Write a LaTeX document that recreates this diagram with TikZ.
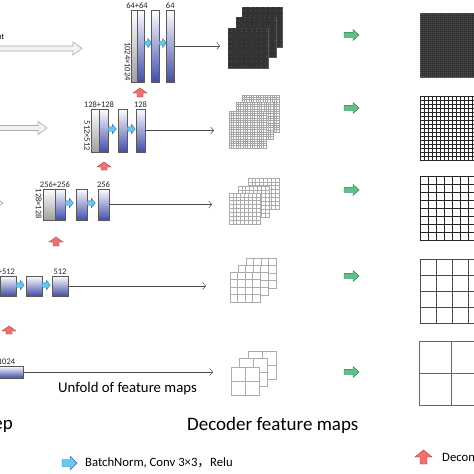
\documentclass[tikz,border=0pt]{standalone}
\usepackage{fontspec}
\setmainfont{Carlito}
\newfontfamily\cjkfont{Noto Sans CJK SC}
\usetikzlibrary{arrows.meta}

\definecolor{barblue}{RGB}{66,78,168}
\definecolor{convcyan}{RGB}{105,200,235}
\definecolor{convedge}{RGB}{45,105,175}
\definecolor{deconvred}{RGB}{238,112,112}
\definecolor{deconvedge}{RGB}{170,60,60}
\definecolor{mapgreen}{RGB}{95,192,142}
\definecolor{mapedge}{RGB}{45,120,80}

\tikzset{
  bar/.style={draw=gray!70!black, line width=0.4pt, inner sep=0pt, outer sep=0pt, top color=white},
  graybar/.style={bar, bottom color=gray!75},
  bluebar/.style={bar, bottom color=barblue},
  dimlabel/.style={font=\fontsize{8.5}{9}\selectfont, inner sep=1pt, text=black!85},
  link/.style={draw=gray!60!black, line width=0.5pt, -{Straight Barb[length=3pt,width=7pt]}},
  convarrow/.style={fill=convcyan, draw=convedge, line width=0.4pt},
  deconvarrow/.style={fill=deconvred, draw=deconvedge, line width=0.4pt},
  maparrow/.style={fill=mapgreen, draw=mapedge, line width=0.4pt},
  passarrow/.style={fill=gray!10, draw=gray!65, line width=0.6pt},
  darkframe/.style={fill=black!70, draw=black!65, line width=0.4pt},
  darklines/.style={draw=gray!40!black, line width=0.3pt},
  midframe/.style={fill=white, draw=gray!70, line width=0.5pt},
  midlines/.style={draw=gray!70, line width=0.4pt},
  lightframe/.style={fill=white, draw=gray!65, line width=0.6pt},
  lightlines/.style={draw=gray!65, line width=0.6pt},
  pics/blockarrow/.style args={#1/#2/#3/#4}{code={
    \path[pic actions] (0,-#2) -- ({#1-#4},-#2) -- ({#1-#4},-#3) -- (#1,0)
      -- ({#1-#4},#3) -- ({#1-#4},#2) -- (0,#2) -- cycle;}}
}

% x, y (top left), size, cells, frame style, line style
\newcommand{\fmap}[6]{%
  \path[#5] (#1,#2) rectangle ++(#3,#3);
  \pgfmathsetmacro\cellsz{#3/#4}
  \pgfmathtruncatemacro\lastk{#4-1}
  \foreach \k in {1,...,\lastk} {
    \draw[#6] ({#1+\k*\cellsz},#2) -- ++(0,#3);
    \draw[#6] (#1,{#2+\k*\cellsz}) -- ++(#3,0);
  }
}

\begin{document}
\begin{tikzpicture}[x=1pt,y=-1pt]
\path[fill=white, use as bounding box] (0,0) rectangle (474,474);

% inputs from the encoder
\node[anchor=east, font=\fontsize{8.5}{9}\selectfont, inner sep=0pt] (inlabel) at (4.5,37) {Input};
\pic[passarrow] at (-5,48.5) {blockarrow=87/2.5/6.5/9};
\pic[passarrow] at (-5,128) {blockarrow=52/2.5/6.5/9};
\pic[passarrow] at (-20,203) {blockarrow=23/2.5/6.5/9};

% row 1
\node[graybar, minimum width=5.5, minimum height=72] (skip1) at (134.25,46) {};
\node[bluebar, minimum width=7, minimum height=72] (up1) at (140.5,46) {};
\node[bluebar, minimum width=7.3, minimum height=72] (conv1) at (155.3,46) {};
\node[bluebar, minimum width=7.3, minimum height=72] (out1) at (170.3,46) {};
\node[dimlabel, anchor=south] (lab1a) at (skip1.north east) {64+64};
\node[dimlabel, anchor=south] (lab1b) at (out1.north) {64};
\node[dimlabel, rotate=-90, anchor=north east] (size1) at (skip1.south west) {1024×1024};
\pic[convarrow] at (144.4,43) {blockarrow=7/2/4.5/3.5};
\pic[convarrow] at (159.2,43) {blockarrow=7/2/4.5/3.5};

% row 2
\node[graybar, minimum width=8, minimum height=43] (skip2) at (95,130.5) {};
\node[bluebar, minimum width=9, minimum height=43] (up2) at (103.5,130.5) {};
\node[bluebar, minimum width=9, minimum height=43] (conv2) at (122.5,130.5) {};
\node[bluebar, minimum width=9, minimum height=43] (out2) at (140.5,130.5) {};
\node[dimlabel, anchor=south] (lab2a) at (skip2.north east) {128+128};
\node[dimlabel, anchor=south] (lab2b) at (out2.north) {128};
\node[dimlabel, rotate=-90, anchor=north east] (size2) at (skip2.south west) {512×512};
\pic[convarrow] at (108.2,129) {blockarrow=8/2.2/4.8/4};
\pic[convarrow] at (127.2,129) {blockarrow=8/2.2/4.8/4};

% row 3
\node[graybar, minimum width=12, minimum height=31] (skip3) at (49,204.5) {};
\node[bluebar, minimum width=10, minimum height=31] (up3) at (60,204.5) {};
\node[bluebar, minimum width=11, minimum height=31] (conv3) at (81.5,204.5) {};
\node[bluebar, minimum width=11, minimum height=31] (out3) at (103.5,204.5) {};
\node[dimlabel, anchor=south] (lab3a) at (skip3.north east) {256+256};
\node[dimlabel, anchor=south] (lab3b) at (out3.north) {256};
\node[dimlabel, rotate=-90, anchor=north east] (size3) at (skip3.south west) {128×128};
\pic[convarrow] at (65.2,203) {blockarrow=8/2.2/4.8/4};
\pic[convarrow] at (87.2,203) {blockarrow=8/2.2/4.8/4};

% row 4
\node[graybar, minimum width=16, minimum height=20] (skip4) at (-8,286) {};
\node[bluebar, minimum width=16, minimum height=20] (up4) at (8,286) {};
\node[bluebar, minimum width=16, minimum height=20] (conv4) at (34,286) {};
\node[bluebar, minimum width=16, minimum height=20] (out4) at (60,286) {};
\node[dimlabel, anchor=south] (lab4a) at (skip4.north east) {512+512};
\node[dimlabel, anchor=south] (lab4b) at (out4.north) {512};
\pic[convarrow] at (16.2,285) {blockarrow=8/2.2/4.8/4};
\pic[convarrow] at (42.2,285) {blockarrow=8/2.2/4.8/4};

% row 5
\node[bluebar, minimum width=33, minimum height=12] (out5) at (6.5,372) {};
\node[dimlabel, anchor=south] (lab5) at (out5.north) {1024};

% deconvolution between rows
\pic[deconvarrow, rotate=90] at (140,97) {blockarrow=9/3/7/5};
\pic[deconvarrow, rotate=90] at (104,170) {blockarrow=8/3/7/5};
\pic[deconvarrow, rotate=90] at (56,246) {blockarrow=9/3/7/5};
\pic[deconvarrow, rotate=90] at (9,334) {blockarrow=8/3/7/5};

% unfold links
\coordinate (m1) at (220,46);
\coordinate (m2) at (214,130.5);
\coordinate (m3) at (212,204.5);
\coordinate (m4) at (206,286);
\coordinate (m5) at (213,372);
\draw[link] (out1.east) -- (m1);
\draw[link] (out2.east) -- (m2);
\draw[link] (out3.east) -- (m3);
\draw[link] (out4.east) -- (m4);
\draw[link] (out5.east) -- (m5);

% decoder feature maps
\fmap{242}{7}{40}{32}{darkframe}{darklines}
\fmap{236}{17}{40}{32}{darkframe}{darklines}
\fmap{228}{28}{40}{32}{darkframe}{darklines}
\fmap{242}{95}{37}{16}{midframe}{midlines}
\fmap{236}{102}{37}{16}{midframe}{midlines}
\fmap{229}{111}{37}{16}{midframe}{midlines}
\fmap{248}{178}{31}{8}{lightframe}{lightlines}
\fmap{238}{186}{31}{8}{lightframe}{lightlines}
\fmap{229}{193}{31}{8}{lightframe}{lightlines}
\fmap{246}{258}{30}{4}{lightframe}{lightlines}
\fmap{238}{265}{30}{4}{lightframe}{lightlines}
\fmap{230}{272}{30}{4}{lightframe}{lightlines}
\fmap{248}{351}{28}{2}{lightframe}{lightlines}
\fmap{239}{358}{28}{2}{lightframe}{lightlines}
\fmap{231}{367}{28}{2}{lightframe}{lightlines}

% green arrows and output grids
\foreach \y in {35,108,190,276,372}
  \pic[maparrow] at (344,\y) {blockarrow=15/2.7/5.5/6};
\fmap{420}{13}{64}{32}{darkframe}{darklines}
\fmap{420}{96}{64}{16}{fill=white, draw=black!85, line width=0.7pt}{draw=black!85, line width=0.7pt}
\fmap{420}{176}{64}{8}{fill=white, draw=black!85, line width=0.8pt}{draw=black!85, line width=0.8pt}
\fmap{420}{259}{64}{4}{fill=white, draw=black!70, line width=1pt}{draw=black!70, line width=1pt}
\fmap{419}{341}{64}{2}{fill=white, draw=black!60, line width=1pt}{draw=black!60, line width=1pt}

% captions and legend
\node[anchor=west, inner sep=0pt, font=\fontsize{14.8}{17}\selectfont] (unfold) at (58,389) {Unfold of feature maps};
\node[anchor=east, inner sep=0pt, font=\fontsize{19}{22}\selectfont] (steptxt) at (13,425) {step};
\node[anchor=west, inner sep=0pt, font=\fontsize{19}{22}\selectfont] (dectxt) at (187,425) {Decoder feature maps};
\pic[convarrow] at (62,463) {blockarrow=15/3.5/7/7};
\node[anchor=west, inner sep=0pt, font=\fontsize{12.7}{15}\selectfont] (convtxt) at (85,463) {BatchNorm, Conv 3×3{\cjkfont ，}Relu};
\pic[deconvarrow, rotate=90] at (423.5,464) {blockarrow=14/3.5/8.5/7};
\node[anchor=west, inner sep=0pt, font=\fontsize{12.7}{15}\selectfont] (deconvtxt) at (442,457) {Deconvolution};
\end{tikzpicture}
\end{document}
